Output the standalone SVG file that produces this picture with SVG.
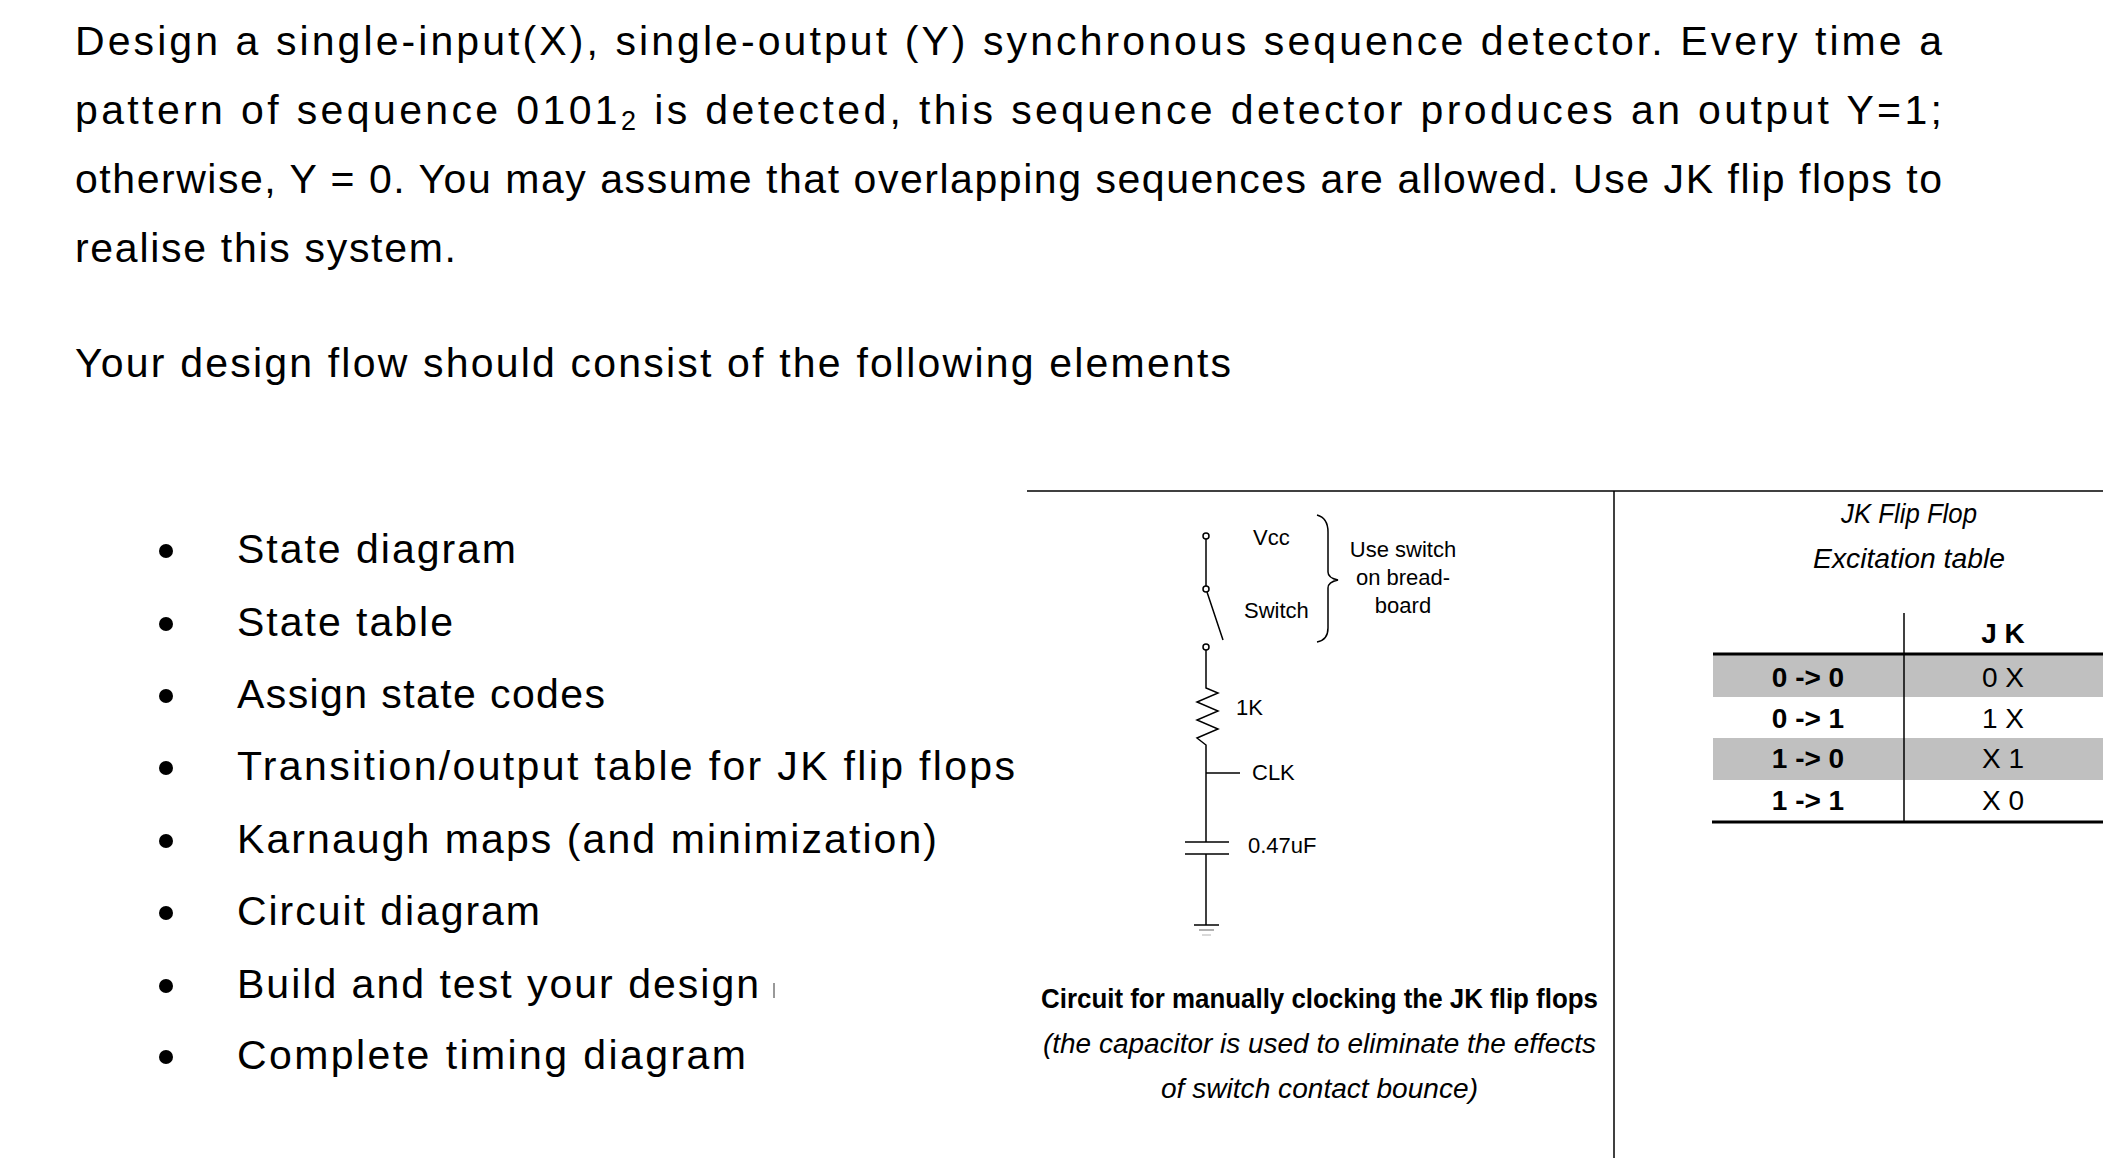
<svg xmlns="http://www.w3.org/2000/svg" width="2103" height="1158" viewBox="0 0 2103 1158">
<style>
.b{font-family:"Liberation Sans",Arial,sans-serif;font-size:41px;fill:#000}
.c{font-family:"Liberation Sans",Arial,sans-serif;font-size:22px;fill:#000}
.cap{font-family:"Liberation Sans",Arial,sans-serif;font-size:27px;fill:#000}
.t{font-family:"Liberation Sans",Arial,sans-serif;font-size:28px;fill:#000;text-anchor:middle}
.w{stroke:#000;stroke-width:1.5;fill:none}
</style>
<rect width="2103" height="1158" fill="#fff"/>
<g id="paragraph">
<text class="b" x="75" y="55" textLength="1867" lengthAdjust="spacing">Design a single-input(X), single-output (Y) synchronous sequence detector. Every time a</text>
<text class="b" x="75" y="124" textLength="1867" lengthAdjust="spacing">pattern of sequence 0101<tspan font-size="27" dy="6">2</tspan><tspan dy="-6"> is detected, this sequence detector produces an output Y=1;</tspan></text>
<text class="b" x="75" y="193" textLength="1867" lengthAdjust="spacing">otherwise, Y = 0. You may assume that overlapping sequences are allowed. Use JK flip flops to</text>
<text class="b" x="75" y="262" textLength="381" lengthAdjust="spacing">realise this system.</text>
<text class="b" x="75" y="377" textLength="1156" lengthAdjust="spacing">Your design flow should consist of the following elements</text>
</g>
<g id="bullets">
<g fill="#000"><circle cx="166" cy="551" r="7"/><circle cx="166" cy="624" r="7"/><circle cx="166" cy="696" r="7"/><circle cx="166" cy="768" r="7"/><circle cx="166" cy="841" r="7"/><circle cx="166" cy="913" r="7"/><circle cx="166" cy="986" r="7"/><circle cx="166" cy="1057" r="7"/></g>
<text class="b" x="237" y="563" textLength="279" lengthAdjust="spacing">State diagram</text>
<text class="b" x="237" y="636" textLength="216" lengthAdjust="spacing">State table</text>
<text class="b" x="237" y="708" textLength="368" lengthAdjust="spacing">Assign state codes</text>
<text class="b" x="237" y="780" textLength="778" lengthAdjust="spacing">Transition/output table for JK flip flops</text>
<text class="b" x="237" y="853" textLength="700" lengthAdjust="spacing">Karnaugh maps (and minimization)</text>
<text class="b" x="237" y="925" textLength="303" lengthAdjust="spacing">Circuit diagram</text>
<text class="b" x="237" y="998" textLength="522" lengthAdjust="spacing">Build and test your design</text>
<text class="b" x="237" y="1069" textLength="509" lengthAdjust="spacing">Complete timing diagram</text>
<line x1="774" y1="983" x2="774" y2="998" stroke="#999" stroke-width="2"/>
</g>
<g id="frame">
<line x1="1027" y1="491" x2="2103" y2="491" stroke="#000" stroke-width="1.5"/>
<line x1="1614" y1="491" x2="1614" y2="1158" stroke="#000" stroke-width="1.5"/>
</g>
<g id="circuit">
<circle cx="1206" cy="536" r="3" class="w"/>
<line x1="1206" y1="539" x2="1206" y2="586" class="w"/>
<circle cx="1206" cy="589" r="3" class="w"/>
<line x1="1207" y1="592" x2="1223" y2="640" class="w"/>
<circle cx="1206" cy="647" r="3" class="w"/>
<polyline class="w" points="1206,650 1206,688 1218,693 1197,702 1218,711 1197,720 1218,729 1197,738 1206,745 1206,842"/>
<line x1="1206" y1="854" x2="1206" y2="925" class="w"/>
<line x1="1206" y1="773" x2="1240" y2="773" class="w"/>
<line x1="1185" y1="842" x2="1229" y2="842" class="w"/>
<line x1="1185" y1="854" x2="1229" y2="854" class="w"/>
<line x1="1194" y1="925" x2="1219" y2="925" class="w"/>
<line x1="1199" y1="930" x2="1214" y2="930" stroke="#999" stroke-width="1.5"/>
<line x1="1202" y1="935" x2="1211" y2="935" stroke="#ccc" stroke-width="1.5"/>
<path class="w" d="M1317,515 Q1328,518 1328,532 L1328,572 Q1328,578 1338,580 Q1328,582 1328,588 L1328,628 Q1328,640 1317,642"/>
<text class="c" x="1253" y="545">Vcc</text>
<text class="c" x="1244" y="618">Switch</text>
<text class="c" x="1403" y="557" text-anchor="middle">Use switch</text>
<text class="c" x="1403" y="585" text-anchor="middle">on bread-</text>
<text class="c" x="1403" y="613" text-anchor="middle">board</text>
<text class="c" x="1236" y="715">1K</text>
<text class="c" x="1252" y="780">CLK</text>
<text class="c" x="1248" y="853">0.47uF</text>
</g>
<g id="caption">
<text class="cap" x="1041" y="1008" font-weight="bold" textLength="557" lengthAdjust="spacingAndGlyphs">Circuit for manually clocking the JK flip flops</text>
<text class="cap" x="1043" y="1053" font-style="italic" textLength="553" lengthAdjust="spacingAndGlyphs">(the capacitor is used to eliminate the effects</text>
<text class="cap" x="1161" y="1098" font-style="italic" textLength="317" lengthAdjust="spacingAndGlyphs">of switch contact bounce)</text>
</g>
<g id="excitation-table">
<text class="cap" x="1841" y="523" font-style="italic" textLength="136" lengthAdjust="spacingAndGlyphs">JK Flip Flop</text>
<text class="cap" x="1813" y="568" font-style="italic" textLength="192" lengthAdjust="spacingAndGlyphs">Excitation table</text>
<rect x="1713" y="655" width="390" height="42" fill="#c0c0c0"/>
<rect x="1713" y="738" width="390" height="42" fill="#c0c0c0"/>
<line x1="1904" y1="613" x2="1904" y2="822" stroke="#000" stroke-width="1.5"/>
<line x1="1713" y1="654" x2="2103" y2="654" stroke="#000" stroke-width="3"/>
<line x1="1712" y1="822" x2="2103" y2="822" stroke="#000" stroke-width="3"/>
<text class="t" x="2003" y="643" font-weight="bold">J  K</text>
<g font-weight="bold"><text class="t" x="1808" y="687">0 -&gt; 0</text><text class="t" x="1808" y="728">0 -&gt; 1</text><text class="t" x="1808" y="768">1 -&gt; 0</text><text class="t" x="1808" y="810">1 -&gt; 1</text></g>
<text class="t" x="2003" y="687">0  X</text><text class="t" x="2003" y="728">1  X</text><text class="t" x="2003" y="768">X  1</text><text class="t" x="2003" y="810">X  0</text>
</g>
</svg>
